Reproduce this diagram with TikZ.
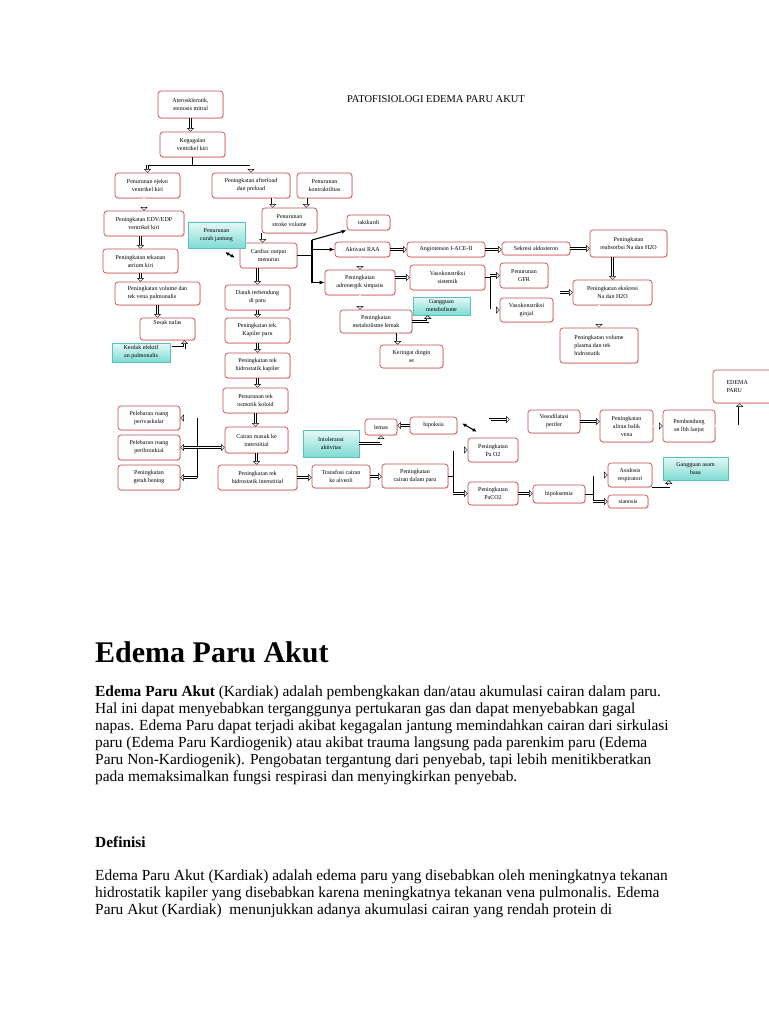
\documentclass[tikz,border=0pt]{standalone}
\usepackage{fontspec}
\setmainfont{Liberation Serif}
\usetikzlibrary{arrows.meta,calc,shadows}
\definecolor{merah}{HTML}{C0504D}
\definecolor{tosca}{HTML}{7FDCD4}
\tikzset{ujung/.tip={Triangle[open,fill=white,length=3.5pt,width=7pt]}}
\begin{document}
\begin{tikzpicture}[x=1pt,y=-1pt,
  kotak/.style={draw=merah,line width=0.7pt,fill=white,rounded corners=3pt,align=center,inner sep=1pt,font=\fontsize{6}{8}\selectfont,drop shadow={shadow xshift=0.7pt,shadow yshift=-0.7pt,fill=red!30,opacity=0.8}},
  catatan/.style={draw=tosca!70!teal,line width=0.5pt,top color=tosca!20,bottom color=tosca,align=center,inner sep=1pt,font=\fontsize{6}{8}\selectfont},
  panah/.style={draw=white,line width=1.9pt,shorten >=3.5pt,
    preaction={draw=black,line width=2.7pt},
    postaction={draw=black,line width=0.4pt,dash pattern=on 0pt off 3000pt,shorten >=0pt,arrows=-ujung}},
  dobel/.style={draw=white,line width=1.9pt,shorten >=3.5pt,shorten <=3.5pt,
    preaction={draw=black,line width=2.7pt},
    postaction={draw=black,line width=0.4pt,dash pattern=on 0pt off 3000pt,shorten >=0pt,shorten <=0pt,arrows=ujung-ujung}},
  garis/.style={draw=black,line width=0.6pt},
  hitam/.style={draw=black,line width=1.1pt,-{Latex[length=5pt,width=4pt]}},
  hitam2/.style={draw=black,line width=1.1pt,{Latex[length=4pt,width=4pt]}-{Latex[length=4pt,width=4pt]}},
  teks/.style={anchor=base west,inner sep=0pt,font=\fontsize{15.4}{17}\selectfont}]
\newcommand{\kotak}[7][]{\node[kotak,minimum width={(#5-#3)*1pt},minimum height={(#6-#4)*1pt},#1] (#2) at ({(#3+#5)/2},{(#4+#6)/2}) {#7};}
\newcommand{\catatan}[6]{\node[catatan,minimum width={(#4-#2)*1pt},minimum height={(#5-#3)*1pt}] (#1) at ({(#2+#4)/2},{(#3+#5)/2}) {#6};}

\fill[white] (0,0) rectangle (768,1024);
\useasboundingbox (0,0) rectangle (768,1024);

\node[font=\fontsize{10.5}{12}\selectfont] (judul) at (436,99) {PATOFISIOLOGI EDEMA PARU AKUT};

\kotak{ater}{158}{91}{223}{118}{Aterosklerotik,\\ stenosis mitral}
\kotak{gagal}{160}{132}{225}{157}{Kegagalan\\ ventrikel kiri}
\kotak{ejeksi}{115}{173}{180}{198}{Penurunan ejeksi\\ ventrikel kiri}
\kotak{afterload}{212}{173}{290}{198}{Peningkatan afterload\\ dan preload}
\kotak{kontrak}{297}{173}{352}{198}{Penurunan\\ kontraktilitas}
\kotak{edv}{104}{211}{184}{236}{Peningkatan EDV/EDP\\ ventrikel kiri}
\kotak{stroke}{262}{208}{317}{233}{Penurunan\\ stroke volume}
\kotak{cardiac}{240}{243}{297}{268}{Cardiac output\\ menurun}
\kotak{atrium}{103}{249}{178}{273}{Peningkatan tekanan\\ atrium kiri}
\kotak[align=left]{vena}{115}{282}{200}{305}{Peningkatan volume dan\\ tek vena pulmonalis}
\kotak{sesak}{140}{318}{195}{340}{Sesak nafas\\[5pt]}
\kotak{darah}{225}{285}{290}{310}{Darah terbendung\\ di paru}
\kotak{kapiler}{225}{318}{290}{343}{Peningkatan tek.\\ Kapiler paru}
\kotak{hidrokap}{225}{353}{290}{378}{Peningkatan tek\\ hidrostatik kapiler}
\kotak{osmotik}{223}{388}{288}{413}{Penurunan tek\\ osmotik koloid}
\kotak{cairan}{225}{427}{288}{453}{Cairan masuk ke\\ interstitial}
\kotak{hidroint}{218}{465}{297}{490}{Peningkatan tek\\ hidrostatik interstitial}
\kotak{periv}{118}{406}{180}{430}{Pelebaran ruang\\ perivaskular}
\kotak{peribr}{118}{435}{180}{460}{Pelebaran ruang\\ peribronkial}
\kotak{getah}{118}{465}{180}{490}{Peningkatan\\ getah bening}
\kotak{takikardi}{347}{215}{390}{230}{takikardi}
\kotak{raa}{335}{242}{390}{257}{Aktivasi RAA}
\kotak{angio}{407}{242}{485}{257}{Angiotensin I-ACE-II}
\kotak{aldo}{502}{242}{570}{255}{Sekresi aldosteron}
\kotak{reabs}{590}{230}{667}{257}{Peningkatan\\ reabsorbsi Na dan H2O}
\kotak{adren}{325}{270}{395}{295}{Peningkatan\\ adrenergik simpatis}
\kotak{vasosis}{410}{265}{485}{290}{Vasokonstriksi\\ sistemik}
\kotak{gfr}{500}{263}{548}{288}{Penurunan\\ GFR}
\kotak{vasogin}{500}{298}{553}{322}{Vasokonstriksi\\ ginjal}
\kotak{ekskresi}{573}{280}{652}{305}{Peningkatan ekskresi\\ Na dan H2O}
\kotak[align=left]{plasma}{560}{328}{638}{363}{Peningkatan volume\\ plasma dan tek\\ hidrostatik}
\kotak{lemak}{340}{310}{412}{333}{Peningkatan\\ metabolisme lemak}
\kotak{keringat}{380}{345}{443}{368}{Keringat dingin\\ se}
\kotak{lemas}{365}{419}{397}{435}{lemas}
\kotak{hipoksia}{410}{417}{457}{434}{hipoksia}
\kotak{transf}{312}{465}{370}{488}{Transfusi cairan\\ ke alveoli}
\kotak{cparu}{382}{464}{448}{488}{Peningkatan\\ cairan dalam paru}
\kotak{pao2}{468}{438}{518}{462}{Peningkatan\\ Pa O2}
\kotak{paco2}{468}{482}{518}{505}{Peningkatan\\ PaCO2}
\kotak{vasodil}{528}{410}{580}{433}{Vasodilatasi\\ perifer}
\kotak{aliran}{600}{410}{653}{442}{Peningkatan\\ aliran balik\\ vena}
\kotak{bendung}{663}{410}{715}{442}{Pembendung\\ an lbh lanjut}
\kotak[align=left,text width=50pt]{edema}{713}{370}{790}{403}{EDEMA\\ PARU}
\kotak{hipoksemia}{533}{485}{585}{503}{hipoksemia}
\kotak{asidosis}{608}{463}{652}{487}{Asidosis\\ respiratori}
\kotak{sianosis}{608}{495}{648}{508}{sianosis}

\catatan{curah}{188}{222}{245}{248}{Penurunan\\ curah jantung}
\catatan{kerdak}{112}{343}{170}{362}{Kerdak efektif\\ an pulmonalis}
\catatan{metab}{413}{297}{470}{315}{Gangguan\\ metabolisme}
\catatan{intol}{303}{430}{359}{457}{Intoleransi\\ aktivitas}
\catatan{asam}{663}{457}{728}{480}{Gangguan asam\\ basa}

\draw[panah] (ater.south) -- (ater.south |- gagal.north);
\draw[garis] (gagal.south) -- ++(0,8) coordinate (cab);
\draw[garis] (ejeksi.north |- cab) -- (afterload.north |- cab);
\draw[panah] (ejeksi.north |- cab) -- (ejeksi.north);
\draw[panah] (afterload.north |- cab) -- (afterload.north);
\draw[panah] (edv.north |- ejeksi.south) -- (edv.north);
\draw[panah] (atrium.north |- edv.south) -- (atrium.north);
\draw[panah] (atrium.south) -- (atrium.south |- vena.north);
\draw[panah] (vena.south) -- (vena.south |- sesak.north);
\draw[panah] ($(kerdak.north east)+(2,5)$) -| ($(sesak.south)+(17,0)$);

\coordinate (s1) at ($(stroke.north west)!0.2!(stroke.north east)$);
\coordinate (s2) at ($(stroke.north west)!0.8!(stroke.north east)$);
\coordinate (c1) at ($(cardiac.north west)!0.4!(cardiac.north east)$);
\draw[panah] (s1 |- afterload.south) -- (s1);
\draw[panah] (s2 |- kontrak.south) -- (s2);
\draw[panah] (c1 |- stroke.south) -- (c1);
\draw[hitam2] ($(curah.south east)+(-20,4)$) -- ($(cardiac.west)+(-5,2)$);

\coordinate (ct) at (312,240);
\draw[garis,line width=1.1pt] (cardiac.east) -- (cardiac.east -| ct);
\draw[garis,line width=1.1pt] (ct) -- (ct |- adren.west);
\draw[hitam] (ct) -- (takikardi.south west);
\draw[hitam] (ct |- raa.west) -- (raa.west);
\draw[hitam] (ct |- adren.west) -- (adren.west);

\draw[panah] (darah.north |- cardiac.south) -- (darah.north);
\foreach \a/\b in {darah/kapiler,kapiler/hidrokap,hidrokap/osmotik,osmotik/cairan,cairan/hidroint}
  \draw[panah] (\a.south) -- (\a.south |- \b.north);

\draw[garis] ($(periv.east)+(17,0)$) -- ($(getah.east)+(17,0)$);
\draw[panah] ($(periv.east)+(17,0)$) -- (periv.east);
\draw[panah] ($(getah.east)+(17,0)$) -- (getah.east);
\draw[dobel] (peribr.east) -- (peribr.east -| cairan.west);

\draw[panah] (hidroint.east) -- (hidroint.east -| transf.west);
\draw[panah] (transf.east) -- (transf.east -| cparu.west);
\draw[garis] (cparu.east) -- ++(5,0) coordinate (cp);
\draw[garis] (cp |- pao2.west) -- (cp |- paco2.west);
\draw[panah] (cp |- pao2.west) -- (pao2.west);
\draw[panah] (cp |- paco2.west) -- (paco2.west);
\draw[panah] (paco2.east) -- (paco2.east -| hipoksemia.west);
\draw[garis] (hipoksemia.east) -- ++(8,0) coordinate (hk);
\draw[garis] (hk |- asidosis.west) -- (hk |- sianosis.west);
\draw[panah] (hk |- asidosis.west) -- (asidosis.west);
\draw[panah] (hk |- sianosis.west) -- (sianosis.west);
\draw[panah] ($(asidosis.south east)+(0,-1)$) -| ($(asam.south west)+(6,0)$);

\draw[panah] (hipoksia.west) -- (hipoksia.west -| lemas.east);
\draw[panah] (intol.east) -| (lemas.south);
\draw[hitam2] ($(hipoksia.east)+(5,-2)$) -- ($(pao2.north west)+(9,-6)$);
\draw[panah] ($(pao2.north)+(-3,-11)$) |- ($(vasodil.west)+(-18,-2)$);
\draw[panah] (vasodil.east) -- (vasodil.east -| aliran.west);
\draw[panah] (aliran.east) -- (aliran.east -| bendung.west);
\draw[panah] (bendung.east) -| ($(edema.south west)+(27,0)$);

\draw[panah] (raa.east) -- (raa.east -| angio.west);
\draw[panah] (angio.east) -- (angio.east -| aldo.west);
\draw[panah] (aldo.east) -- (aldo.east -| reabs.west);
\draw[panah] (adren.north |- raa.south) -- (adren.north);
\draw[panah] (vasosis.west -| adren.east) -- (vasosis.west);
\draw[garis] (vasosis.east) -- ++(5,0) coordinate (vs);
\draw[garis] (vs |- gfr.west) -- (vs |- vasogin.west);
\draw[panah] (vs |- gfr.west) -- (gfr.west);
\draw[panah] (vs |- vasogin.west) -- (vasogin.west);
\draw[panah] (ekskresi.north |- reabs.south) -- (ekskresi.north);
\draw[panah] ($(ekskresi.west)+(-13,0)$) -- (ekskresi.west);
\draw[panah] (ekskresi.south -| plasma.north) -- (plasma.north);
\draw[panah] (adren.south) -- (adren.south |- lemak.north);
\path (keringat.north west) ++(18,0) coordinate (kt);
\draw[panah] (kt |- lemak.south) -- (kt);
\draw[panah] (lemak.east) -| ($(metab.south west)+(15,0)$);

\node[teks,font=\fontsize{30}{34}\selectfont\bfseries] (head) at (95,662) {Edema Paru Akut};
\node[teks] (p1) at (95,696) {\textbf{Edema Paru Akut} (Kardiak) adalah pembengkakan dan/atau akumulasi cairan dalam paru.};
\node[teks] (p2) at (95,713) {Hal ini dapat menyebabkan terganggunya pertukaran gas dan dapat menyebabkan gagal};
\node[teks] (p3) at (95,730) {napas. Edema Paru dapat terjadi akibat kegagalan jantung memindahkan cairan dari sirkulasi};
\node[teks] (p4) at (95,747) {paru (Edema Paru Kardiogenik) atau akibat trauma langsung pada parenkim paru (Edema};
\node[teks] (p5) at (95,764) {Paru Non-Kardiogenik). Pengobatan tergantung dari penyebab, tapi lebih menitikberatkan};
\node[teks] (p6) at (95,781) {pada memaksimalkan fungsi respirasi dan menyingkirkan penyebab.};
\node[teks,font=\fontsize{15.4}{17}\selectfont\bfseries] (def) at (95,847) {Definisi};
\node[teks] (q1) at (95,880) {Edema Paru Akut (Kardiak) adalah edema paru yang disebabkan oleh meningkatnya tekanan};
\node[teks] (q2) at (95,897) {hidrostatik kapiler yang disebabkan karena meningkatnya tekanan vena pulmonalis. Edema};
\node[teks] (q3) at (95,914) {Paru Akut (Kardiak)\ \ menunjukkan adanya akumulasi cairan yang rendah protein di};
\end{tikzpicture}
\end{document}
